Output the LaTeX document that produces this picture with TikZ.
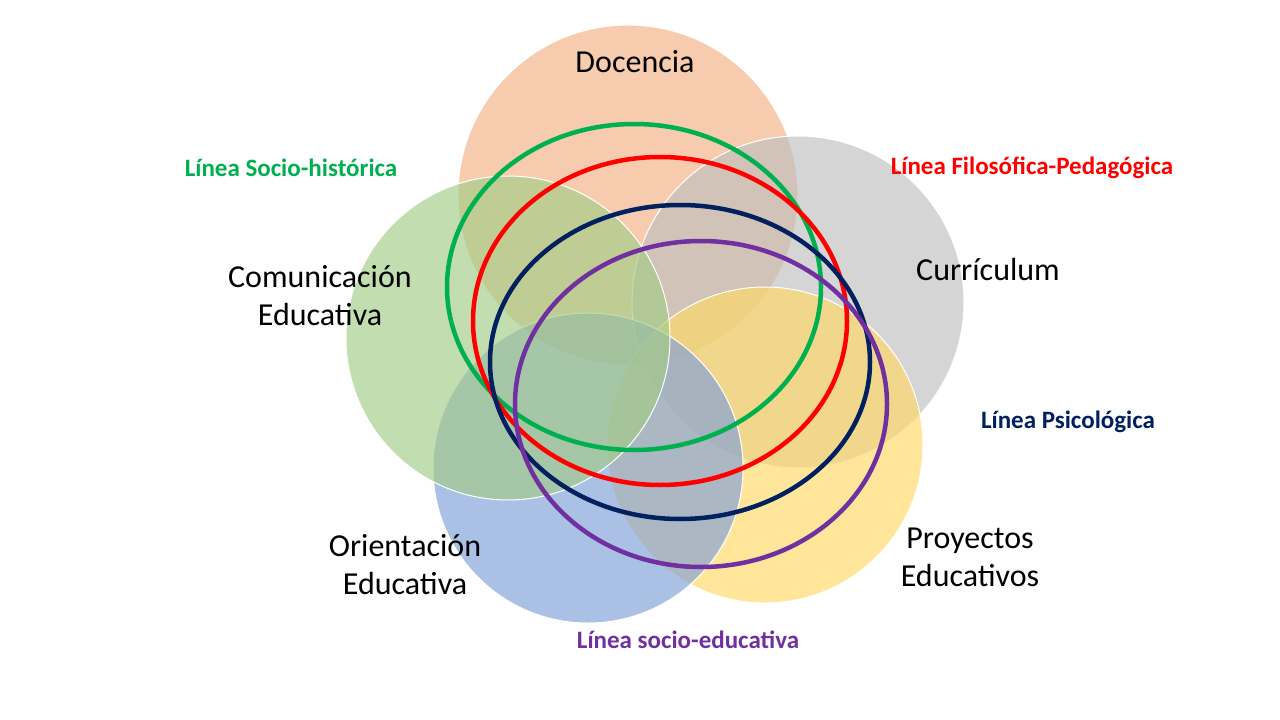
\documentclass[tikz,border=0pt]{standalone}
\usepackage{fontspec}
\setmainfont{Carlito}
\begin{document}
\begin{tikzpicture}[x=1pt,y=-1pt,
  circ/.style={draw=white,line width=1pt,fill opacity=0.65},
  ell/.style={line width=4.5pt},
  big/.style={font=\fontsize{32}{38}\selectfont,align=center,text=black},
  lin/.style={font=\bfseries\fontsize{25}{30}\selectfont}]
\useasboundingbox (0,0) rectangle (1280,720);
\fill[white] (0,0) rectangle (1280,720);
\definecolor{cor}{HTML}{F4B183}
\definecolor{cgr}{HTML}{BFBFBF}
\definecolor{cye}{HTML}{FFD966}
\definecolor{cbl}{HTML}{7F9FD8}
\definecolor{cgn}{HTML}{A2CC86}
\definecolor{egn}{HTML}{00B050}
\definecolor{ere}{HTML}{FF0000}
\definecolor{ena}{HTML}{002060}
\definecolor{epu}{HTML}{7030A0}
\path[circ,fill=cor] (628,195) circle (170);
\path[circ,fill=cgr] (798,302) circle (166);
\path[circ,fill=cye] (765,445) circle (158);
\path[circ,fill=cbl] (588,468) circle (155);
\path[circ,fill=cgn] (508,338) circle (162);
\draw[ell,egn] (634,287) ellipse [x radius=187,y radius=163];
\draw[ell,ere] (660,321) ellipse [x radius=187,y radius=164];
\draw[ell,ena] (680,362) ellipse [x radius=190,y radius=157];
\draw[ell,epu] (701,404) ellipse [x radius=186,y radius=163];
\node[big] (doc) at (635,62) {Docencia};
\node[big] (com) at (320,296) {Comunicación\\Educativa};
\node[big] (cur) at (988,270) {Currículum};
\node[big] (ori) at (405,565) {Orientación\\Educativa};
\node[big] (pro) at (970,557) {Proyectos\\Educativos};
\node[lin,text=egn] (l1) at (291,168) {Línea Socio-histórica};
\node[lin,text=ere] (l2) at (1032,168) {Línea Filosófica-Pedagógica};
\node[lin,text=ena] (l3) at (1068,422) {Línea Psicológica};
\node[lin,text=epu] (l4) at (688,640) {Línea socio-educativa};
\end{tikzpicture}
\end{document}
